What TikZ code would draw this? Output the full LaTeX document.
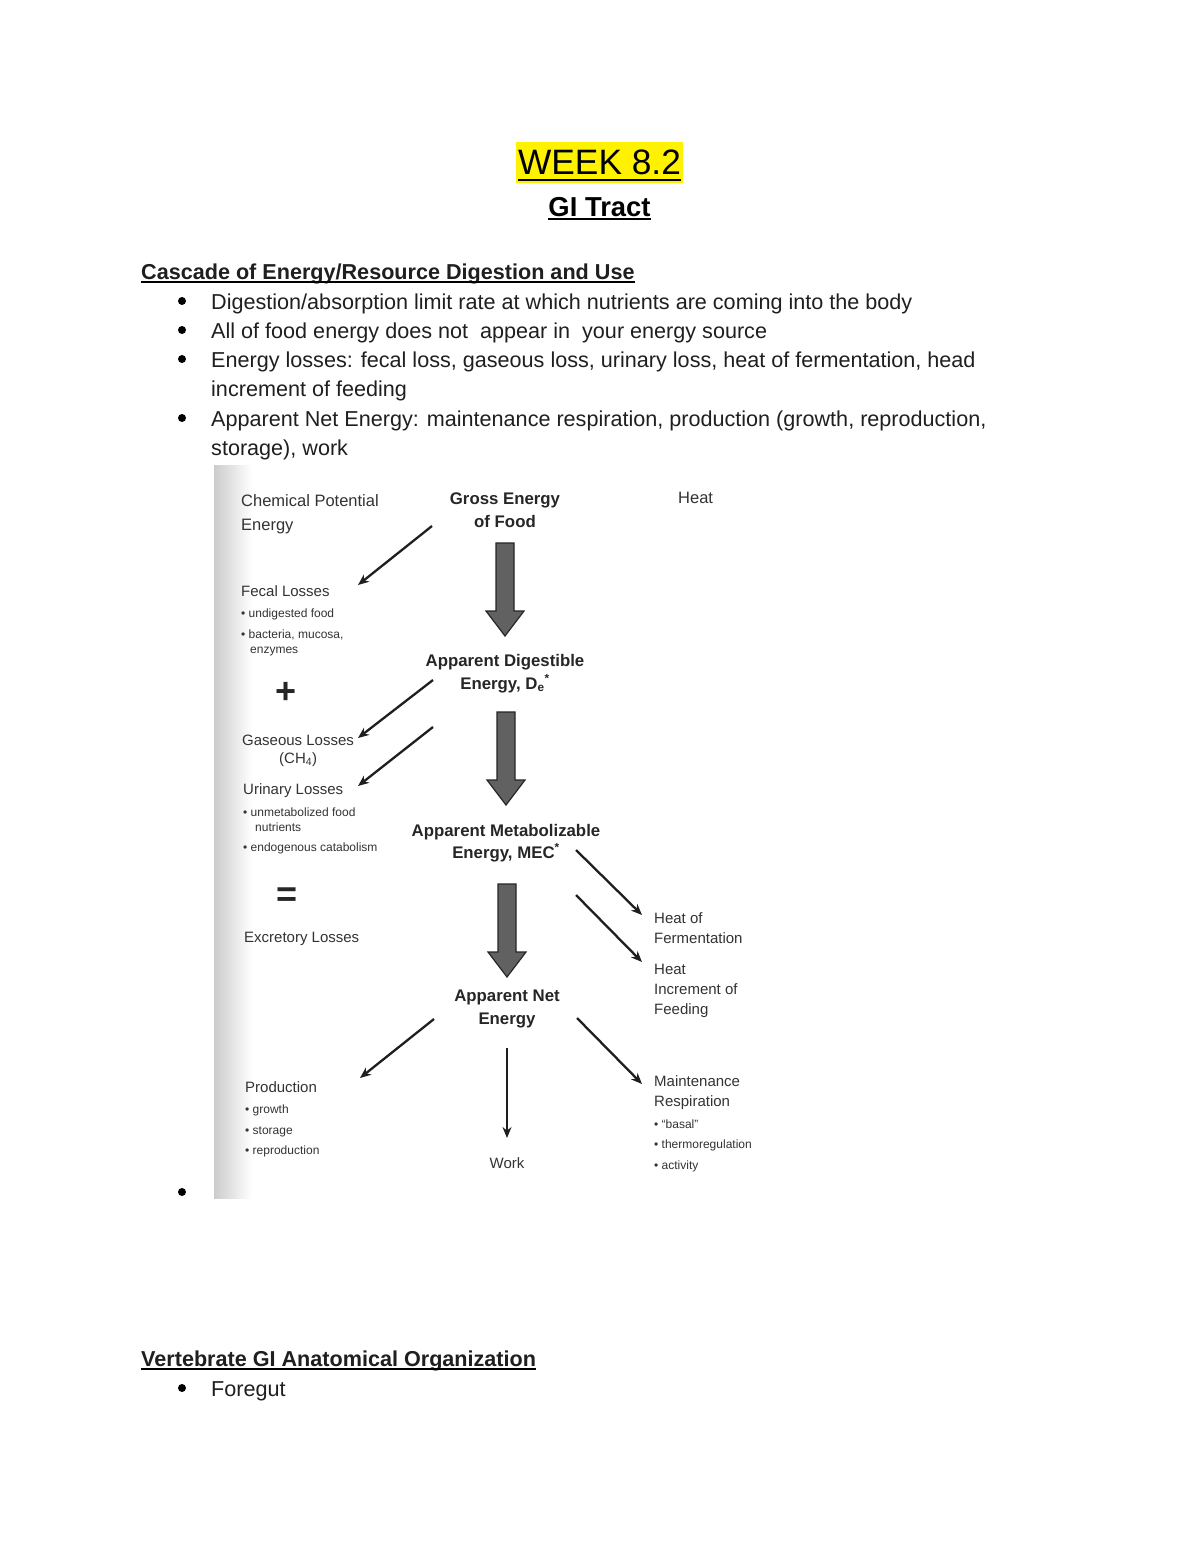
\documentclass[tikz,border=0pt]{standalone}
\usepackage{fontspec}
\setmainfont{Liberation Sans}
\usetikzlibrary{arrows.meta}

\begin{document}
\begin{tikzpicture}[x=1pt, y=-1pt,
  body/.style={anchor=base west, inner sep=0pt, font=\fontsize{21.6}{26}\selectfont, text=black!88},
  head/.style={body, font=\fontsize{21.6}{26}\selectfont\bfseries},
  dot/.style={circle, fill=black, inner sep=0pt, minimum size=8pt},
  lbl/.style={anchor=base west, inner sep=0pt, font=\fontsize{15}{18}\selectfont, text=black!80},
  blbl/.style={anchor=base, inner sep=0pt, font=\fontsize{16.8}{20}\selectfont\bfseries, text=black!85},
  sub/.style={anchor=base west, inner sep=0pt, font=\fontsize{12}{14}\selectfont, text=black!80},
  loss/.style={draw=black!88, line width=2.3pt, -{Stealth[length=11pt, width=9pt]}},
  fat/.style={fill=black!62, draw=black!85, line width=1.2pt}
]
  \useasboundingbox[fill=white] (0,0) rectangle (1200,1553);

  % page title
  \node[fill=yellow, inner xsep=2pt, inner ysep=0pt, text height=32.5pt, text depth=8.5pt,
        font=\fontsize{35.3}{40}\selectfont] (week) at (599.5,162.5) {WEEK 8.2};
  \draw[black, line width=2.2pt] ([xshift=2pt,yshift=3pt]week.south west) -- ([xshift=-2pt,yshift=3pt]week.south east);
  \node[anchor=base, inner sep=0pt, font=\fontsize{27.4}{32}\selectfont\bfseries] (tract) at (599.5,216) {GI Tract};
  \draw[line width=1.6pt] ([yshift=-3pt]tract.base west) -- ([yshift=-3pt]tract.base east);

  % first section
  \node[head] (cascade) at (141,279) {Cascade of Energy/Resource Digestion and Use};
  \draw[line width=1.5pt] ([yshift=-3pt]cascade.base west) -- ([yshift=-3pt]cascade.base east);
  \foreach \y [count=\i] in {301,330,359,418,1192,1388}
    \node[dot] (b\i) at (182,\y) {};
  \node[body] (l1) at (211,309) {Digestion/absorption limit rate at which nutrients are coming into the body};
  \node[body] (l2) at (211,338) {All of food energy does not\ \ appear in\ \ your energy source};
  \node[body] (l3) at (211,367) {Energy losses: fecal loss, gaseous loss, urinary loss, heat of fermentation, head};
  \node[body] (l4) at (211,396) {increment of feeding};
  \node[body] (l5) at (211,426) {Apparent Net Energy: maintenance respiration, production (growth, reproduction,};
  \node[body] (l6) at (211,455) {storage), work};

  % scanned figure, grey page edge
  \shade[left color=black!20, right color=white] (214,465) rectangle (252,1198);

  % left column
  \node[lbl, font=\fontsize{16.5}{18}\selectfont] (chem1) at (241,506) {Chemical Potential};
  \node[lbl, font=\fontsize{16.5}{18}\selectfont] (chem2) at (241,530) {Energy};
  \node[lbl] (fecal) at (241,596) {Fecal Losses};
  \node[sub] (fecal1) at (241,617) {• undigested food};
  \node[sub] (fecal2) at (241,638) {• bacteria, mucosa,};
  \node[sub] (fecal3) at (250,653) {enzymes};
  \node[inner sep=0pt, font=\fontsize{36}{38}\selectfont\bfseries, text=black!85] (plus) at (286,693) {+};
  \node[lbl] (gas) at (242,745) {Gaseous Losses};
  \node[lbl] (gas2) at (279,763) {(CH\textsubscript{4})};
  \node[lbl] (urin) at (243,794) {Urinary Losses};
  \node[sub] (urin1) at (243,816) {• unmetabolized food};
  \node[sub] (urin2) at (255,831) {nutrients};
  \node[sub] (urin3) at (243,851) {• endogenous catabolism};
  \node[inner sep=0pt, font=\fontsize{36}{38}\selectfont\bfseries, text=black!85] (equal) at (287,897) {=};
  \node[lbl] (excr) at (244,942) {Excretory Losses};
  \node[lbl] (prod) at (245,1092) {Production};
  \node[sub] (prod1) at (245,1113) {• growth};
  \node[sub] (prod2) at (245,1134) {• storage};
  \node[sub] (prod3) at (245,1154) {• reproduction};

  % middle column
  \node[blbl] (gross1) at (505,504) {Gross Energy};
  \node[blbl] (gross2) at (505,527) {of Food};
  \node[blbl] (dig1) at (505,666) {Apparent Digestible};
  \node[blbl] (dig2) at (505,689) {Energy, D\textsubscript{e}\textsuperscript{*}};
  \node[blbl] (met1) at (506,836) {Apparent Metabolizable};
  \node[blbl] (met2) at (506,858) {Energy, MEC\textsuperscript{*}};
  \node[blbl] (net1) at (507,1001) {Apparent Net};
  \node[blbl] (net2) at (507,1024) {Energy};
  \node[lbl, anchor=base] (work) at (507,1168) {Work};

  % right column
  \node[lbl, font=\fontsize{16.5}{18}\selectfont] (heat) at (678,503) {Heat};
  \node[lbl] (ferm1) at (654,923) {Heat of};
  \node[lbl] (ferm2) at (654,943) {Fermentation};
  \node[lbl] (incr1) at (654,974) {Heat};
  \node[lbl] (incr2) at (654,994) {Increment of};
  \node[lbl] (incr3) at (654,1014) {Feeding};
  \node[lbl] (maint1) at (654,1086) {Maintenance};
  \node[lbl] (maint2) at (654,1106) {Respiration};
  \node[sub] (maint3) at (654,1128) {• “basal”};
  \node[sub] (maint4) at (654,1148) {• thermoregulation};
  \node[sub] (maint5) at (654,1169) {• activity};

  % big grey arrows down the cascade
  \foreach \x/\y in {505/543, 506/712, 507/884}
    \draw[fat] (\x-9,\y) -- (\x+9,\y) -- (\x+9,\y+68) -- (\x+19,\y+68) -- (\x,\y+93)
      -- (\x-19,\y+68) -- (\x-9,\y+68) -- cycle;

  % loss arrows
  \coordinate (fecalS) at (432,526);  \coordinate (fecalE) at (358,585);
  \coordinate (gasS)   at (433,680);  \coordinate (gasE)   at (358,738);
  \coordinate (urinS)  at (433,727);  \coordinate (urinE)  at (358,786);
  \coordinate (fermS)  at (576,850);  \coordinate (fermE)  at (642,915);
  \coordinate (incrS)  at (576,895);  \coordinate (incrE)  at (642,962);
  \coordinate (prodS)  at (434,1019); \coordinate (prodE)  at (360,1078);
  \coordinate (workS)  at (507,1048); \coordinate (workE)  at (507,1138);
  \coordinate (maintS) at (577,1018); \coordinate (maintE) at (642,1084);
  \foreach \a in {fecal, gas, urin, ferm, incr, prod, maint}
    \draw[loss] (\a S) -- (\a E);
  \draw[loss, line width=1.7pt] (workS) -- (workE);

  % second section
  \node[head] (vert) at (141,1366) {Vertebrate GI Anatomical Organization};
  \draw[line width=1.5pt] ([yshift=-3pt]vert.base west) -- ([yshift=-3pt]vert.base east);
  \node[body] (l7) at (211,1396) {Foregut};
\end{tikzpicture}
\end{document}
